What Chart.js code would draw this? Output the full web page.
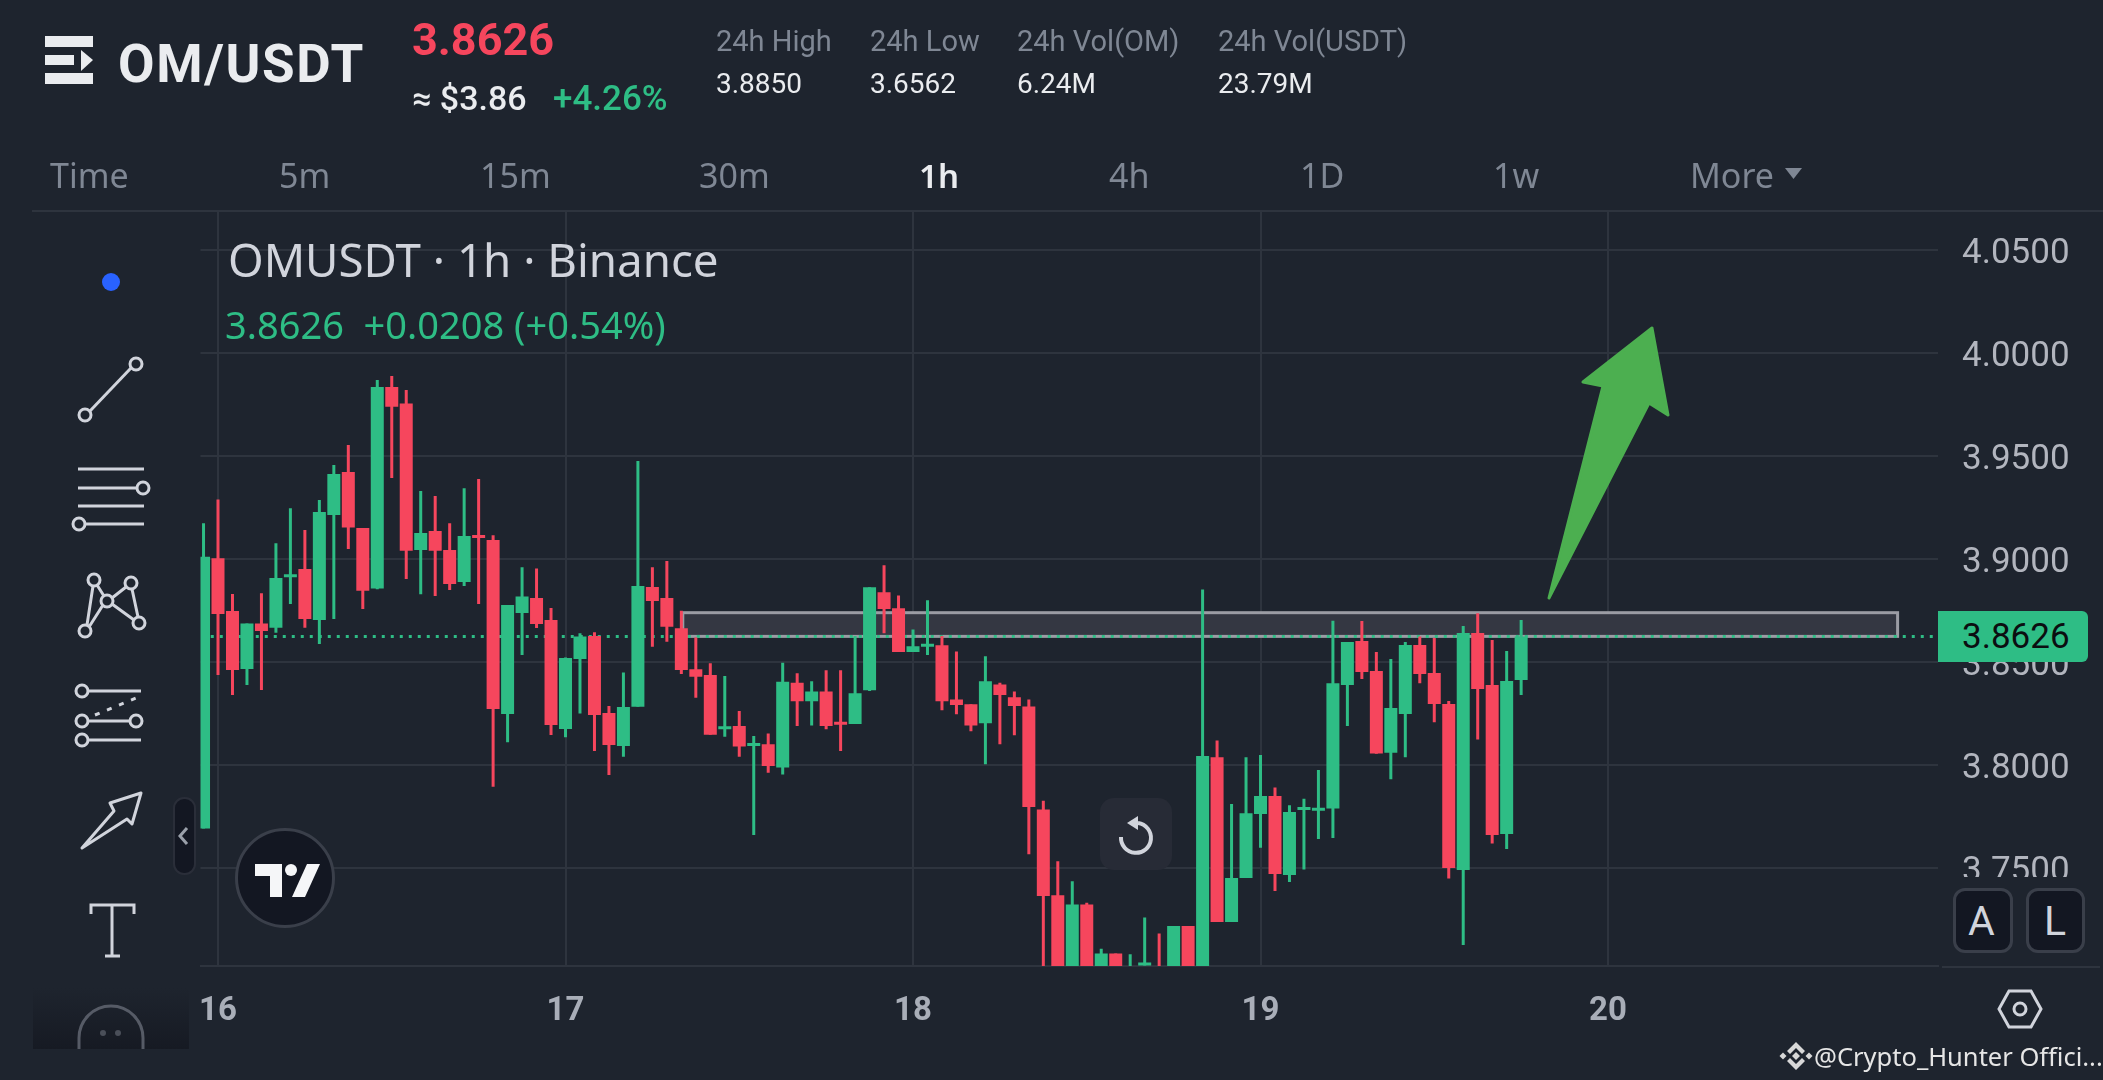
<!DOCTYPE html>
<html>
<head>
<meta charset="utf-8">
<title>OM/USDT</title>
<script src="https://cdn.jsdelivr.net/npm/chart.js@4"></script>
<style>
  html, body { margin: 0; padding: 0; width: 2103px; height: 1080px; overflow: hidden; background: #1e242e; }
  body { position: relative; font-family: Roboto, sans-serif; }
  canvas { position: absolute; left: 0; top: 0; }
  .t { position: absolute; white-space: nowrap; line-height: 1; transform: translateY(-50%); }
  .tab { font-size: 34px; color: #7f8794; font-family: "Noto Sans", sans-serif; }
  .lbl { font-size: 29px; color: #7f8794; }
  .val { font-size: 28px; color: #eaecef; }
  .box { position: absolute; box-sizing: border-box; }
  svg.over { position: absolute; left: 0; top: 0; pointer-events: none; }
</style>
</head>
<body>
<canvas id="chart" width="2103" height="1080"></canvas>

<!-- masks and rules around the plot -->
<div class="box" style="left:1940px;top:877px;width:163px;height:89px;background:#1e242e"></div>
<div class="box" style="left:32px;top:210px;width:2071px;height:2px;background:#2e343e"></div>
<div class="box" style="left:1942px;top:966px;width:158px;height:2px;background:#2e343e"></div>

<!-- header -->
<div class="t" style="left:118px;top:64px;font-size:53px;font-weight:700;color:#eaecef;letter-spacing:1.6px">OM/USDT</div>
<div class="t" style="left:412px;top:39px;font-size:45px;font-weight:700;color:#f6465d">3.8626</div>
<div class="t" style="left:412px;top:98px;font-size:34px;font-weight:500;color:#eaecef">≈ $3.86</div>
<div class="t" style="left:553px;top:98px;font-size:35px;font-weight:500;color:#2ebd85">+4.26%</div>
<div class="t lbl" style="left:716px;top:41px">24h High</div>
<div class="t lbl" style="left:870px;top:41px">24h Low</div>
<div class="t lbl" style="left:1017px;top:41px">24h Vol(OM)</div>
<div class="t lbl" style="left:1218px;top:41px">24h Vol(USDT)</div>
<div class="t val" style="left:716px;top:84px">3.8850</div>
<div class="t val" style="left:870px;top:84px">3.6562</div>
<div class="t val" style="left:1017px;top:84px">6.24M</div>
<div class="t val" style="left:1218px;top:84px">23.79M</div>

<!-- interval tabs -->
<div class="t tab" style="left:50px;top:175px">Time</div>
<div class="t tab" style="left:279px;top:175px">5m</div>
<div class="t tab" style="left:480px;top:175px">15m</div>
<div class="t tab" style="left:699px;top:175px">30m</div>
<div class="t tab" style="left:919px;top:175px;color:#eaecef;font-weight:600;font-size:33px">1h</div>
<div class="t tab" style="left:1109px;top:175px">4h</div>
<div class="t tab" style="left:1300px;top:175px">1D</div>
<div class="t tab" style="left:1493px;top:175px">1w</div>
<div class="t tab" style="left:1690px;top:175px">More</div>

<!-- legend -->
<div class="t" style="left:228px;top:260px;font-size:45.7px;color:#d1d4dc;font-family:'Noto Sans',sans-serif">OMUSDT · 1h · Binance</div>
<div class="t" style="left:225px;top:324px;font-size:38px;color:#2ebd85;font-family:'Noto Sans',sans-serif">3.8626&nbsp; +0.0208 (+0.54%)</div>

<!-- last price tag -->
<div class="box" style="left:1938px;top:611px;width:150px;height:51px;background:#2ebd85;border-radius:0 6px 6px 0"></div>
<div class="t" style="left:1962px;top:636px;font-size:35px;color:#0b0e11">3.8626</div>

<!-- refresh + scale buttons -->
<div class="box" style="left:1100px;top:798px;width:72px;height:72px;background:#272b36;border-radius:14px"></div>
<div class="box" style="left:1953px;top:888px;width:60px;height:65px;background:#131722;border:3px solid #3a3f4a;border-radius:12px"></div>
<div class="box" style="left:2026px;top:888px;width:59px;height:65px;background:#131722;border:3px solid #3a3f4a;border-radius:12px"></div>
<div class="t" style="left:1968px;top:921px;font-size:41px;color:#d1d4dc">A</div>
<div class="t" style="left:2044px;top:921px;font-size:41px;color:#d1d4dc">L</div>

<!-- left toolbar bits -->
<div class="box" style="left:33px;top:988px;width:156px;height:61px;background:linear-gradient(#1e242e,#161a23)"></div>
<div class="box" style="left:173px;top:797px;width:23px;height:78px;background:#131722;border:2px solid #2a2e39;border-radius:11px"></div>
<div class="box" style="left:235px;top:828px;width:100px;height:100px;background:#131722;border:3px solid #3a3f4a;border-radius:50%"></div>

<div class="t" style="left:1814px;top:1057px;font-size:25.5px;color:#e6e6e6;font-family:'Noto Sans',sans-serif">@Crypto_Hunter Offici...</div>

<svg class="over" width="2103" height="1080" fill="none" stroke="#d1d4dc" stroke-width="3">
  <!-- user-drawn arrow -->
  <polygon points="1652,328 1668,415 1649,403 1549,598 1603,386 1583,382" fill="#4caf50" stroke="#4caf50" stroke-width="3" stroke-linejoin="round"/>
  <!-- logo -->
  <g fill="#eaecef" stroke="none">
    <rect x="45" y="36" width="48" height="11"/><rect x="45" y="73" width="48" height="11"/>
    <rect x="45" y="55" width="29" height="10"/><polygon points="81,50 93,60 81,71"/>
  </g>
  <polygon points="1785,168 1802,168 1793.5,179" fill="#7f8794" stroke="none"/>
  <!-- toolbar -->
  <circle cx="111" cy="282" r="9" fill="#2962ff" stroke="none"/>
  <g>
    <circle cx="136" cy="364" r="6"/><circle cx="85" cy="415" r="6"/><line x1="131" y1="368" x2="90" y2="411"/>
    <line x1="78" y1="469" x2="144" y2="469"/><line x1="78" y1="488" x2="137" y2="488"/><circle cx="143" cy="488" r="6"/>
    <line x1="78" y1="506" x2="144" y2="506"/><line x1="85" y1="524" x2="144" y2="524"/><circle cx="79" cy="524" r="6"/>
    <circle cx="94" cy="580" r="6"/><circle cx="131" cy="583" r="6"/><circle cx="107" cy="601" r="6"/><circle cx="85" cy="631" r="6"/><circle cx="139" cy="623" r="6"/>
    <path d="M87 625L93 586M97 585L104 596M89 627L103 605M112 598L126 587M112 604L134 620M132 589L138 617"/>
    <circle cx="82" cy="691" r="6"/><line x1="88" y1="691" x2="141" y2="691"/>
    <circle cx="82" cy="721" r="6"/><line x1="88" y1="721" x2="130" y2="721"/><circle cx="136" cy="721" r="6"/>
    <circle cx="82" cy="740" r="6"/><line x1="88" y1="740" x2="141" y2="740"/>
    <line x1="95" y1="715" x2="136" y2="698" stroke-dasharray="5 8"/>
    <path d="M82 848L127 819L132 824L141 793L110 803L114 811Z" stroke-linejoin="round"/>
    <path d="M91 914V905H134V914M112 905V956M105 956H120"/>
    <path d="M79 1049V1038A32 32 0 0 1 143 1038V1049" stroke="#565b66"/>
    <path d="M187 828L180 836L187 844" stroke="#9aa0aa"/>
  </g>
  <circle cx="103" cy="1033" r="3" fill="#4a4f59" stroke="none"/><circle cx="118" cy="1033" r="3" fill="#4a4f59" stroke="none"/>
  <!-- tradingview mark -->
  <g fill="#f5f6f8" stroke="none">
    <polygon points="255,864 282,864 282,897 270,897 270,876 255,876"/>
    <circle cx="291" cy="870" r="6"/>
    <polygon points="307,864 320,864 305,897 292,897"/>
  </g>
  <!-- refresh -->
  <path d="M1138 823A15 15 0 1 1 1121 837" stroke-width="4"/>
  <polygon points="1127,823 1138,816 1138,830" fill="#d1d4dc" stroke="none"/>
  <!-- settings hex -->
  <polygon points="1999,1009 2009,991 2031,991 2041,1009 2031,1027 2009,1027"/>
  <circle cx="2020" cy="1009" r="6"/>
  <!-- watermark diamond -->
  <g fill="#d8d8d8" stroke="none">
    <polygon points="1796,1042 1805,1051 1802,1054 1796,1048 1790,1054 1787,1051"/>
    <polygon points="1796,1070 1805,1061 1802,1058 1796,1064 1790,1058 1787,1061"/>
    <polygon points="1783,1052.5 1786.5,1056 1783,1059.5 1779.5,1056"/><polygon points="1809,1052.5 1812.5,1056 1809,1059.5 1805.5,1056"/>
    <polygon points="1796,1052 1800,1056 1796,1060 1792,1056"/>
  </g>
</svg>

<script>
// hours since the 16th 00:00, one candle per hour
const hours = [-1,0,1,2,3,4,5,6,7,8,9,10,11,12,13,14,15,16,17,18,19,20,21,22,23,24,25,26,27,28,29,30,
  31,32,33,34,35,36,37,38,39,40,41,42,43,44,45,46,47,48,49,50,51,52,53,54,55,56,57,58,59,60,61,62,63,64,
  65,66,67,68,69,70,71,72,73,74,75,76,77,78,79,80,81,82,83,84,85,86,87,88,89,90];

const opens = [3.7693,3.9005,3.8749,3.8468,3.8689,3.8668,3.8913,3.8953,3.8706,3.9215,3.9424,3.9152,3.8859,3.9837,3.9757,3.9045,3.9138,3.9045,3.8890,3.9118,3.9094,3.8249,3.8739,3.8812,3.8706,3.8176,3.8516,3.8628,3.8254,3.8094,3.8285,3.8866,
  3.8812,3.8665,3.8466,3.8439,3.8175,3.8191,3.8094,3.8102,3.7990,3.8401,3.8311,3.8359,3.8209,3.8201,3.8364,3.8840,3.8762,3.8550,3.8576,3.8583,3.8320,3.8296,3.8204,3.8393,3.8330,3.8286,3.7786,3.7369,3.6950,3.7325,3.6950,3.7087,3.6950,3.7028,
  3.7000,3.6950,3.7220,3.6950,3.8039,3.7239,3.7453,3.7764,3.7851,3.7468,3.7783,3.7780,3.7790,3.8390,3.8604,3.8458,3.8061,3.8249,3.8584,3.8448,3.8298,3.7492,3.8642,3.8390,3.7667,3.8414];
const highs = [3.9175,3.9291,3.8832,3.8689,3.8835,3.9078,3.9248,3.9142,3.9288,3.9458,3.9555,3.9152,3.9871,3.9890,3.9822,3.9332,3.9307,3.9175,3.9345,3.9390,3.9117,3.8778,3.8961,3.8956,3.8764,3.8524,3.8641,3.8646,3.8288,3.8451,3.9477,3.8961,
  3.8992,3.8751,3.8620,3.8495,3.8434,3.8264,3.8142,3.8154,3.8498,3.8447,3.8408,3.8461,3.8461,3.8628,3.8864,3.8971,3.8825,3.8660,3.8801,3.8628,3.8553,3.8296,3.8529,3.8401,3.8358,3.8320,3.7828,3.7534,3.7437,3.7333,3.7110,3.7087,3.7083,3.7261,
  3.7184,3.7220,3.7220,3.8854,3.8121,3.7812,3.8039,3.8050,3.7893,3.7806,3.7838,3.7977,3.8702,3.8599,3.8701,3.8550,3.8516,3.8599,3.8625,3.8618,3.8312,3.8676,3.8738,3.8608,3.8555,3.8706];
const lows = [3.7693,3.8438,3.8341,3.8390,3.8366,3.8644,3.8783,3.8668,3.8589,3.8710,3.9050,3.8759,3.8855,3.9395,3.8905,3.8830,3.8822,3.8851,3.8871,3.8783,3.7896,3.8112,3.8536,3.8667,3.8147,3.8136,3.8252,3.8070,3.7953,3.8042,3.8285,3.8576,
  3.8600,3.8443,3.8328,3.8149,3.8139,3.8042,3.7662,3.7964,3.7956,3.8191,3.8194,3.8175,3.8070,3.8201,3.8361,3.8641,3.8550,3.8550,3.8536,3.8267,3.8248,3.8165,3.8005,3.8102,3.8146,3.7568,3.6900,3.6900,3.6950,3.6920,3.6950,3.6950,3.6950,3.7028,
  3.6950,3.6950,3.6950,3.6950,3.7239,3.7239,3.7453,3.7600,3.7390,3.7434,3.7495,3.7642,3.7647,3.8191,3.8419,3.8056,3.7932,3.8039,3.8398,3.8209,3.7451,3.7128,3.8126,3.7621,3.7594,3.8341];
const closes = [3.9013,3.8735,3.8463,3.8689,3.8652,3.8909,3.8922,3.8710,3.9230,3.9414,3.9154,3.8848,3.9837,3.9741,3.9042,3.9128,3.9042,3.8880,3.9113,3.9104,3.8273,3.8778,3.8819,3.8686,3.8196,3.8521,3.8625,3.8244,3.8099,3.8283,3.8871,3.8798,
  3.8673,3.8463,3.8430,3.8149,3.8183,3.8091,3.8107,3.7997,3.8406,3.8311,3.8359,3.8191,3.8197,3.8350,3.8864,3.8759,3.8550,3.8578,3.8586,3.8311,3.8293,3.8194,3.8408,3.8341,3.8288,3.7798,3.7366,3.6950,3.7325,3.6920,3.7087,3.6950,3.6980,3.7039,
  3.6950,3.7220,3.6950,3.8045,3.7239,3.7453,3.7767,3.7851,3.7472,3.7773,3.7798,3.7793,3.8398,3.8599,3.8453,3.8058,3.8278,3.8584,3.8443,3.8298,3.7502,3.8642,3.8371,3.7662,3.8409,3.8626];

const priceTicks = [3.75, 3.80, 3.85, 3.90, 3.95, 4.00, 4.05];
const dayTicks = [0, 24, 48, 72, 96];
const dayLabels = ['16', '17', '18', '19', '20'];
const lastPrice = 3.8626;
// the drawn box: hour from/to, price top/bottom
const zoneHours = [32.1, 116.0];
const zonePrices = [3.8741, 3.8626];

const UP = '#2ebd85';
const DOWN = '#f6465d';
const GRID = '#2e343e';
const candleColors = closes.map((c, i) => (c >= opens[i] ? UP : DOWN));

// gray box sits under the candles
const zonePlugin = {
  id: 'zone',
  beforeDatasetsDraw(chart) {
    const { ctx, scales: { x, y } } = chart;
    const left = x.getPixelForValue(zoneHours[0]);
    const right = x.getPixelForValue(zoneHours[1]);
    const top = y.getPixelForValue(zonePrices[0]);
    const bottom = y.getPixelForValue(zonePrices[1]);
    ctx.save();
    ctx.fillStyle = '#343742';
    ctx.strokeStyle = '#9b9ca4';
    ctx.lineWidth = 3;
    ctx.fillRect(left, top, right - left, bottom - top);
    ctx.strokeRect(left, top, right - left, bottom - top);
    ctx.restore();
  }
};

const chart = new Chart(document.getElementById('chart').getContext('2d'), {
  type: 'bar',
  data: {
    datasets: [
      {
        type: 'line',
        order: 3,
        data: [{ x: -0.5, y: lastPrice }, { x: 118.8, y: lastPrice }],
        borderColor: UP,
        borderWidth: 3,
        borderDash: [3, 6],
        pointRadius: 0
      },
      {
        label: 'wick',
        order: 2,
        data: hours.map((h, i) => ({ x: h, y: [lows[i], highs[i]] })),
        backgroundColor: candleColors,
        barThickness: 3,
        grouped: false,
        inflateAmount: 0
      },
      {
        label: 'body',
        order: 1,
        data: hours.map((h, i) => ({ x: h, y: [opens[i], closes[i]] })),
        backgroundColor: candleColors,
        barThickness: 13,
        minBarLength: 3,
        grouped: false,
        inflateAmount: 0
      }
    ]
  },
  options: {
    responsive: false,
    animation: false,
    events: [],
    layout: { padding: { left: 200.5, top: 212, right: 0, bottom: 0 } },
    plugins: { legend: { display: false }, tooltip: { enabled: false } },
    scales: {
      x: {
        type: 'linear',
        offset: false,
        min: -1.209,
        max: 118.79,
        grid: { color: GRID, lineWidth: 2, drawTicks: false, offset: false },
        border: { color: GRID, width: 2 },
        afterBuildTicks(scale) { scale.ticks = dayTicks.map(v => ({ value: v })); },
        afterFit(scale) { scale.height = 114; },
        ticks: {
          autoSkip: false,
          maxRotation: 0,
          padding: 26,
          color: '#a9aeb8',
          font: { family: 'Roboto', size: 33, weight: '700' },
          callback: (v, i) => dayLabels[i]
        }
      },
      y: {
        position: 'right',
        beginAtZero: false,
        min: 3.7026,
        max: 4.0686,
        grid: { color: GRID, lineWidth: 2, drawTicks: false },
        border: { display: false },
        afterBuildTicks(scale) { scale.ticks = priceTicks.map(v => ({ value: v })); },
        afterFit(scale) { scale.width = 165; },
        ticks: {
          padding: 24,
          labelOffset: 4,
          color: '#b2b5be',
          font: { family: 'Roboto', size: 35 },
          callback: v => v.toFixed(4)
        }
      }
    }
  },
  plugins: [zonePlugin]
});
</script>
</body>
</html>
